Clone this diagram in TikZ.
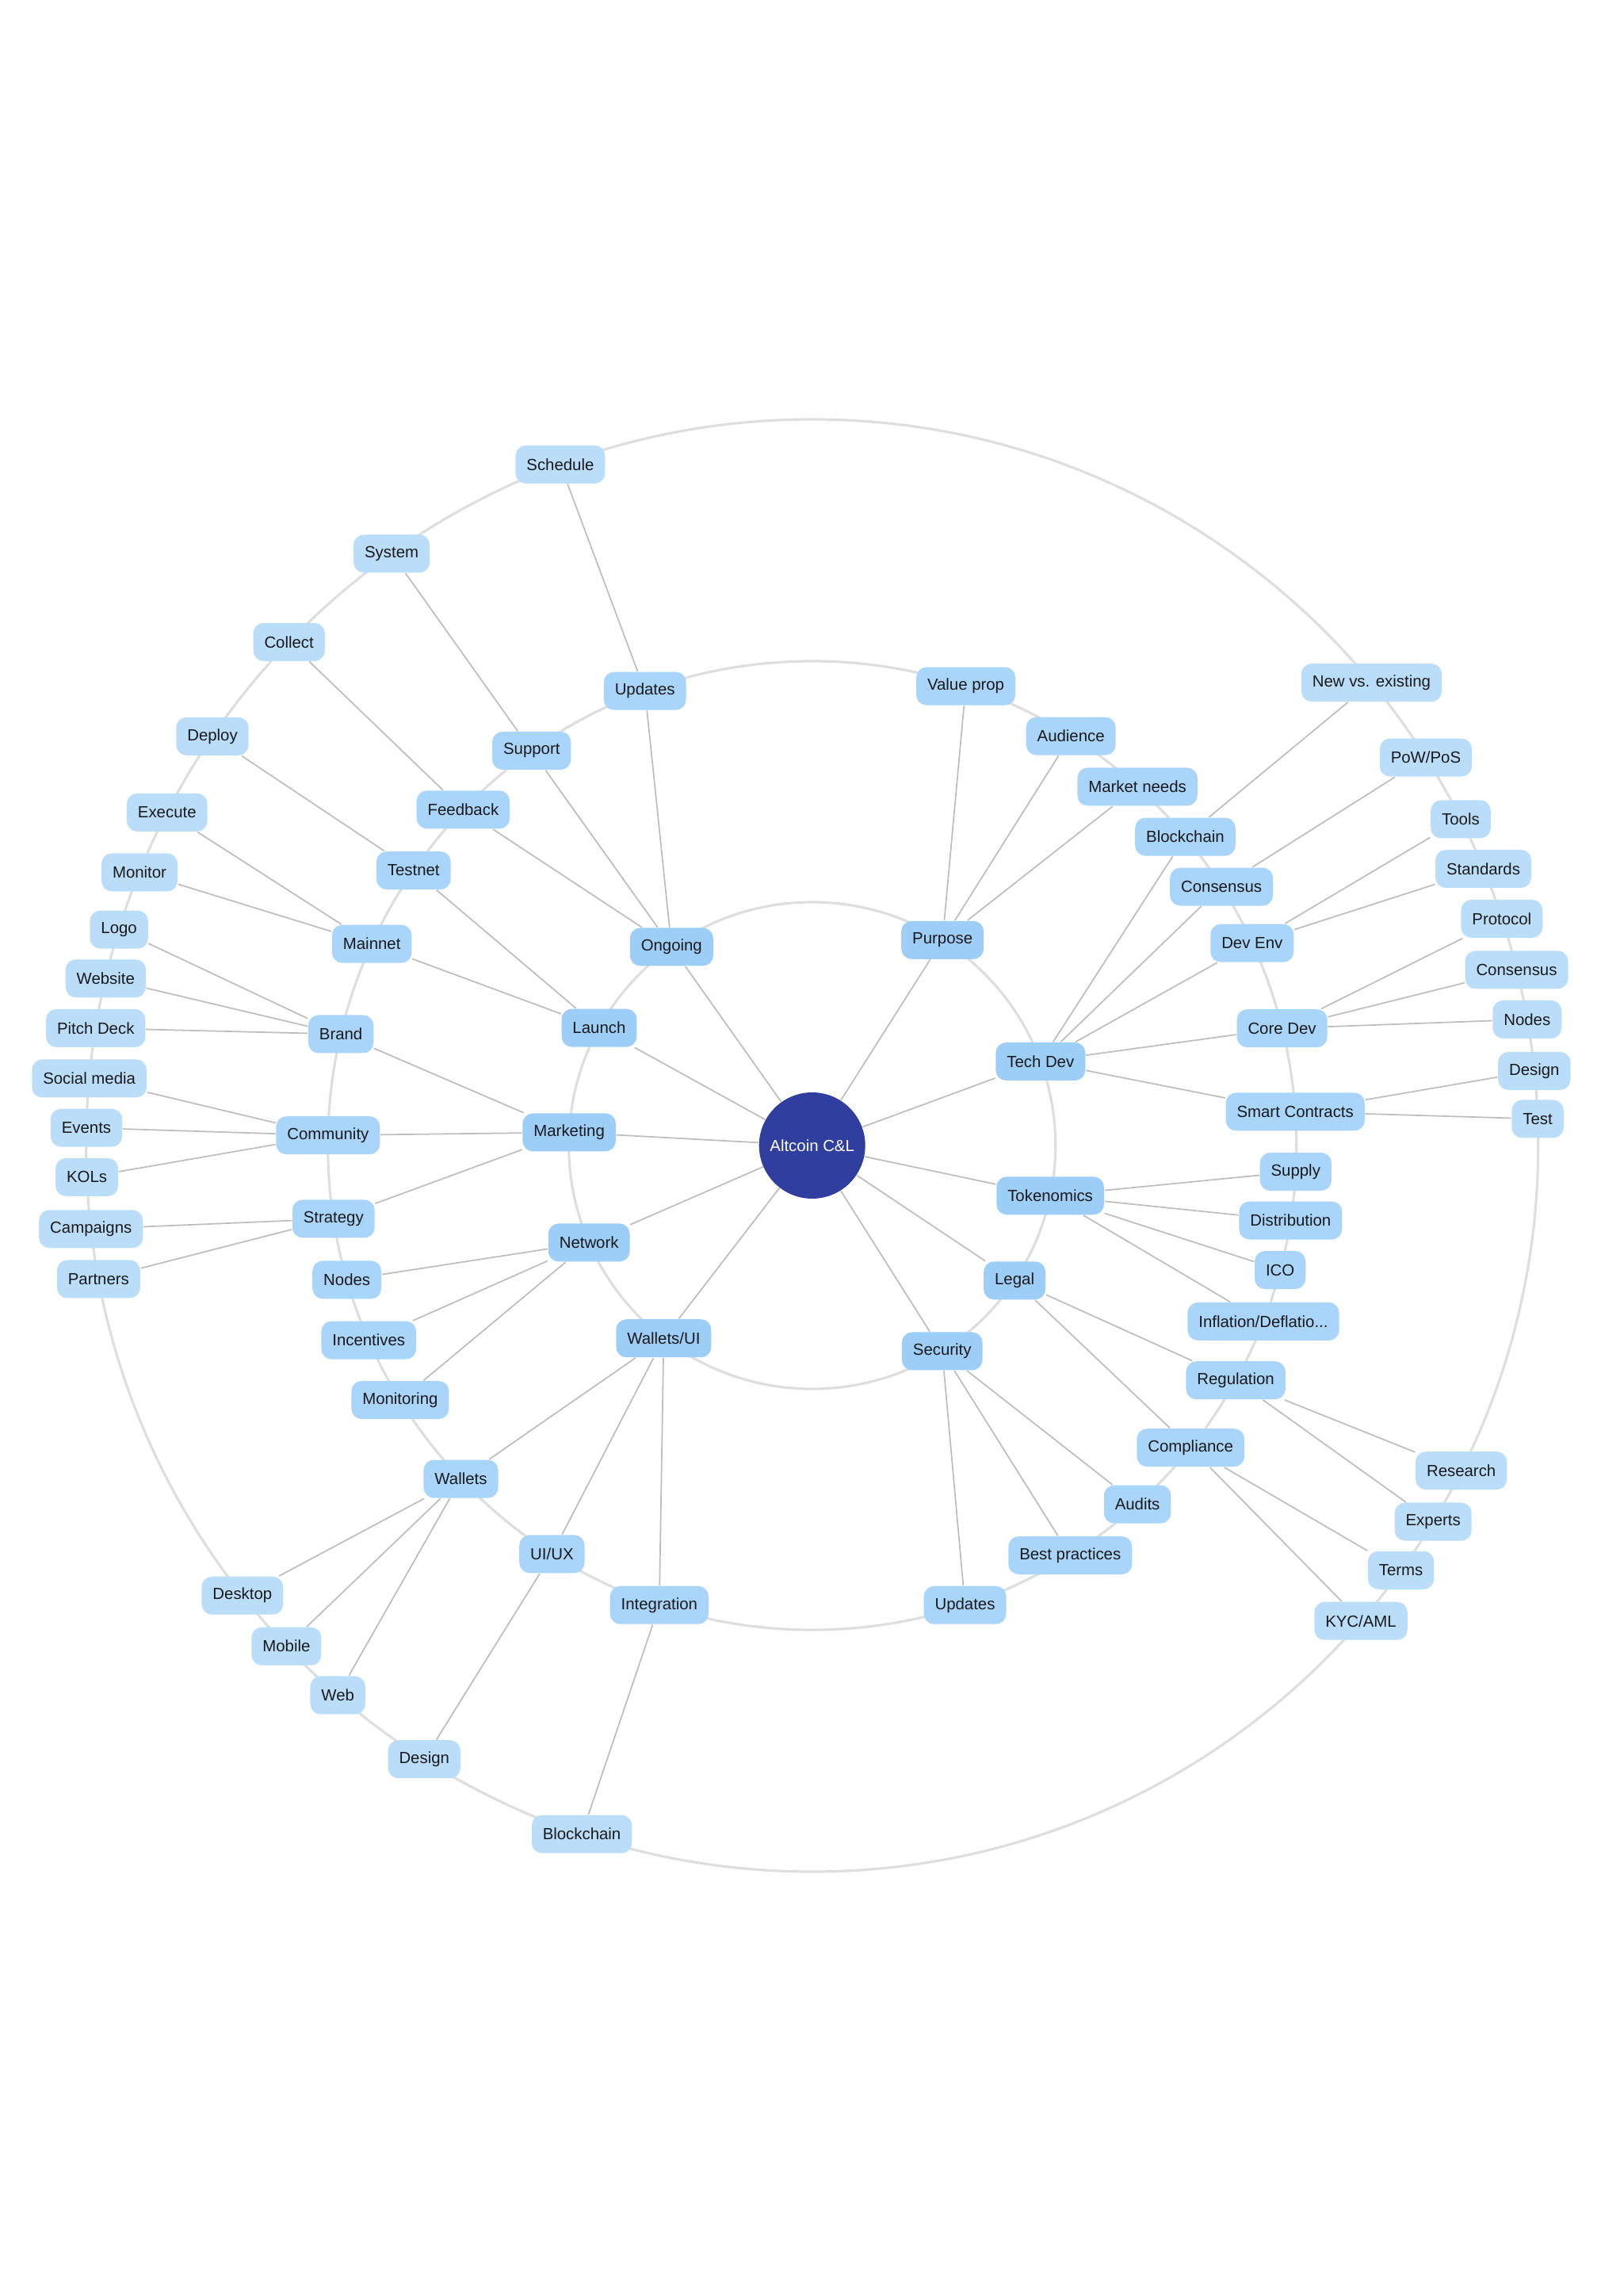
\documentclass[tikz,border=0pt]{standalone}
\usepackage{fontspec}
\setmainfont{Liberation Sans}
\usepackage{tikz}
\usetikzlibrary{backgrounds}
\usepackage{xcolor}
\definecolor{hubblue}{RGB}{48, 63, 159}
\definecolor{lvlone}{RGB}{156, 206, 248}
\definecolor{lvltwo}{RGB}{168, 213, 249}
\definecolor{lvlthree}{RGB}{186, 222, 250}
\definecolor{ringgray}{RGB}{222, 222, 222}
\definecolor{edgegray}{RGB}{190, 190, 190}

\begin{document}
\begin{tikzpicture}[
    every node/.style={font=\fontsize{5.8}{7}\selectfont, text=black!90},
    topic/.style={rounded corners=0.13cm, minimum height=0.48cm,
                  inner xsep=0.14cm, inner ysep=0pt},
    first/.style={topic, fill=lvlone},
    second/.style={topic, fill=lvltwo},
    third/.style={topic, fill=lvlthree},
    hub/.style={circle, fill=hubblue, text=white, minimum size=1.34cm, inner sep=0pt},
    ring/.style={draw=ringgray, line width=0.9pt},
    edge/.style={draw=edgegray, line width=0.5pt}
  ]
  \useasboundingbox (-10.247,-14.50) rectangle (10.233,14.45);

  % centre
  \node[hub] (root) at (0,0) {Altcoin C\&L};

  % first ring
  \node[first] (purpose)   at (57.6:3.07)   {Purpose};
  \node[first] (techdev)   at (20.2:3.07)   {Tech Dev};
  \node[first] (tokenomics) at (-11.9:3.07) {Tokenomics};
  \node[first] (legal)     at (-33.7:3.07)  {Legal};
  \node[first] (security)  at (-57.7:3.07)  {Security};
  \node[first] (walletsui) at (-127.6:3.07) {Wallets/UI};
  \node[first] (network)   at (-156.5:3.07) {Network};
  \node[first] (marketing) at (176.9:3.07)  {Marketing};
  \node[first] (launch)    at (151.1:3.07)  {Launch};
  \node[first] (ongoing)   at (125.3:3.07)  {Ongoing};

  % second ring
  \node[second] (updates)     at (110.2:6.11)  {Updates};
  \node[second] (valueprop)   at (71.5:6.11)   {Value prop};
  \node[second] (audience)    at (57.7:6.11)   {Audience};
  \node[second] (marketneeds) at (47.8:6.11)   {Market needs};
  \node[second] (blockchain)  at (39.6:6.11)   {Blockchain};
  \node[second] (consensus)   at (32.3:6.11)   {Consensus};
  \node[second] (devenv)      at (24.7:6.11)   {Dev Env};
  \node[second] (coredev)     at (14.0:6.11)   {Core Dev};
  \node[second] (smartc)      at (4.0:6.11)    {Smart Contracts};
  \node[second] (supply)      at (-3.1:6.11)   {Supply};
  \node[second] (distrib)     at (-8.9:6.11)   {Distribution};
  \node[second] (ico)         at (-14.9:6.11)  {ICO};
  \node[second] (inflation)   at (-21.3:6.11)  {Inflation/Deflatio...};
  \node[second] (regulation)  at (-29.0:6.11)  {Regulation};
  \node[second] (compliance)  at (-38.6:6.11)  {Compliance};
  \node[second] (audits)      at (-47.8:6.11)  {Audits};
  \node[second] (bestpract)   at (-57.8:6.11)  {Best practices};
  \node[second] (secupdates)  at (-71.6:6.11)  {Updates};
  \node[second] (integration) at (-108.4:6.11) {Integration};
  \node[second] (uiux)        at (-122.5:6.11) {UI/UX};
  \node[second] (wallets)     at (-136.5:6.11) {Wallets};
  \node[second] (monitoring)  at (-148.3:6.11) {Monitoring};
  \node[second] (incentives)  at (-156.3:6.11) {Incentives};
  \node[second] (netnodes)    at (-163.9:6.11) {Nodes};
  \node[second] (strategy)    at (-171.3:6.11) {Strategy};
  \node[second] (community)   at (178.8:6.11)  {Community};
  \node[second] (brand)       at (166.7:6.11)  {Brand};
  \node[second] (mainnet)     at (155.4:6.11)  {Mainnet};
  \node[second] (testnet)     at (145.4:6.11)  {Testnet};
  \node[second] (feedback)    at (136.1:6.11)  {Feedback};
  \node[second] (support)     at (125.4:6.11)  {Support};

  % third ring
  \node[third] (schedule)   at (110.3:9.16)  {Schedule};
  \node[third] (newvs)      at (39.6:9.16)   {New vs. existing};
  \node[third] (powpos)     at (32.3:9.16)   {PoW/PoS};
  \node[third] (tools)      at (26.7:9.16)   {Tools};
  \node[third] (standards)  at (22.4:9.16)   {Standards};
  \node[third] (protocol)   at (18.2:9.16)   {Protocol};
  \node[third] (coreconsensus) at (14.0:9.16) {Consensus};
  \node[third] (corenodes)  at (10.0:9.16)   {Nodes};
  \node[third] (scdesign)   at (5.9:9.16)    {Design};
  \node[third] (sctest)     at (2.1:9.16)    {Test};
  \node[third] (research)   at (-26.6:9.16)  {Research};
  \node[third] (experts)    at (-31.2:9.16)  {Experts};
  \node[third] (terms)      at (-35.8:9.16)  {Terms};
  \node[third] (kycaml)     at (-40.9:9.16)  {KYC/AML};
  \node[third] (intchain)   at (-108.5:9.16) {Blockchain};
  \node[third] (uidesign)   at (-122.3:9.16) {Design};
  \node[third] (web)        at (-130.8:9.16) {Web};
  \node[third] (mobile)     at (-136.4:9.16) {Mobile};
  \node[third] (desktop)    at (-141.7:9.16) {Desktop};
  \node[third] (partners)   at (-169.4:9.16) {Partners};
  \node[third] (campaigns)  at (-173.4:9.16) {Campaigns};
  \node[third] (kols)       at (-177.5:9.16) {KOLs};
  \node[third] (events)     at (178.6:9.16)  {Events};
  \node[third] (socialmedia) at (174.7:9.16) {Social media};
  \node[third] (pitchdeck)  at (170.7:9.16)  {Pitch Deck};
  \node[third] (website)    at (166.7:9.16)  {Website};
  \node[third] (logo)       at (162.7:9.16)  {Logo};
  \node[third] (monitor)    at (157.9:9.16)  {Monitor};
  \node[third] (execute)    at (152.7:9.16)  {Execute};
  \node[third] (deploy)     at (145.7:9.16)  {Deploy};
  \node[third] (collect)    at (136.1:9.16)  {Collect};
  \node[third] (system)     at (125.4:9.16)  {System};

  \begin{scope}[on background layer]
    % rings
    \foreach \r in {3.07, 6.11, 9.16}
      \draw[ring] (0,0) circle (\r);
    % branches
    \foreach \a/\b in {root/purpose, root/techdev, root/tokenomics, root/legal,
        root/security, root/walletsui, root/network, root/marketing,
        root/launch, root/ongoing,
        purpose/valueprop, purpose/audience, purpose/marketneeds,
        techdev/blockchain, techdev/consensus, techdev/devenv,
        techdev/coredev, techdev/smartc,
        blockchain/newvs, consensus/powpos, devenv/tools, devenv/standards,
        coredev/protocol, coredev/coreconsensus, coredev/corenodes,
        smartc/scdesign, smartc/sctest,
        tokenomics/supply, tokenomics/distrib, tokenomics/ico, tokenomics/inflation,
        legal/regulation, legal/compliance,
        regulation/research, regulation/experts,
        compliance/terms, compliance/kycaml,
        security/audits, security/bestpract, security/secupdates,
        walletsui/wallets, walletsui/uiux, walletsui/integration,
        wallets/desktop, wallets/mobile, wallets/web,
        uiux/uidesign, integration/intchain,
        network/netnodes, network/incentives, network/monitoring,
        marketing/brand, marketing/community, marketing/strategy,
        brand/logo, brand/website, brand/pitchdeck,
        community/socialmedia, community/events, community/kols,
        strategy/campaigns, strategy/partners,
        launch/testnet, launch/mainnet,
        testnet/deploy, mainnet/execute, mainnet/monitor,
        ongoing/feedback, ongoing/support, ongoing/updates,
        feedback/collect, support/system, updates/schedule}
      \draw[edge] (\a) -- (\b);
  \end{scope}
\end{tikzpicture}
\end{document}
